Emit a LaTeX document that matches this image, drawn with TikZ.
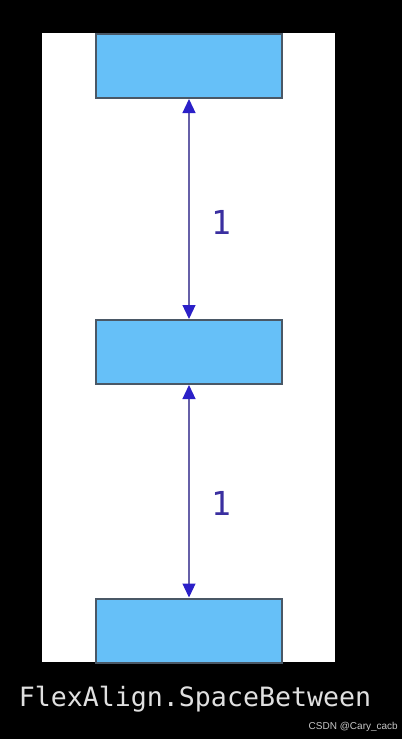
\documentclass[tikz,border=0pt]{standalone}
\usepackage{fontspec}
\setmonofont{DejaVu Sans Mono}
\newfontfamily\credfont{Liberation Sans}
\usetikzlibrary{arrows.meta}

\definecolor{boxfill}{HTML}{66C0F8}
\definecolor{boxline}{HTML}{4A5866}
\definecolor{gapline}{HTML}{6660A8}
\definecolor{gaptip}{HTML}{2B20C8}
\definecolor{gaplabel}{HTML}{3A2FA0}

\begin{document}
\begin{tikzpicture}[
    x=1pt, y=-1pt,
    item/.style={rectangle, draw=boxline, fill=boxfill, line width=2pt, minimum width=186pt, minimum height=64pt, inner sep=0pt},
    % gap arrows between the items, tips on both ends
    gap/.style={draw=gapline, line width=1.2pt, {Triangle[length=14pt, width=13pt, color=gaptip]}-{Triangle[length=14pt, width=13pt, color=gaptip]}},
    gaplabel/.style={font=\ttfamily\fontsize{33}{33}\selectfont, text=gaplabel, inner sep=0pt}
  ]
    %--- background and panel
    \fill[black] (0,0) rectangle (402,739);
    \useasboundingbox (0,0) rectangle (402,739);
    \fill[white] (42,33) rectangle (335,662);

    %--- the three items
    \node[item] (first) at (189,66) {};
    \node[item] (second) at (189,352) {};
    \node[item] (third) at (189,630.5) {};

    %--- gaps
    \draw[gap] (first.south) -- (second.north);
    \draw[gap] (second.south) -- (third.north);
    \node[gaplabel] (gapA) at (221,222) {1};
    \node[gaplabel] (gapB) at (221,503) {1};

    %--- captions
    \node[font=\ttfamily\fontsize{26.6}{27}\selectfont, text=white!88!black, anchor=base, inner sep=0pt] (caption) at (195,706) {FlexAlign.SpaceBetween};
    \node[font=\credfont\fontsize{10}{10}\selectfont, text=white!78!black, anchor=base east, inner sep=0pt] (credit) at (398,729.5) {CSDN @Cary\_cacb};
  \end{tikzpicture}
\end{document}
